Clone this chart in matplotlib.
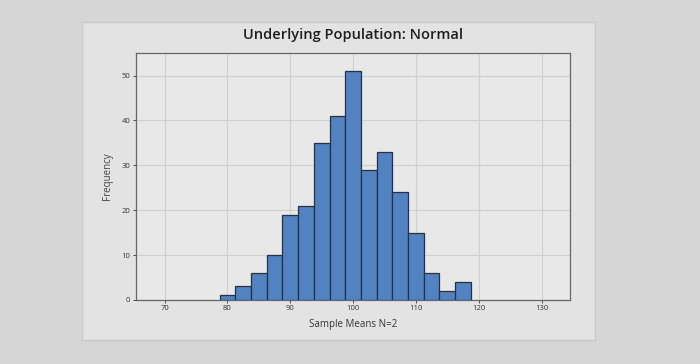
import numpy as np
import matplotlib.pyplot as plt
from matplotlib.patches import Rectangle

# histogram: bin width 2.5, centres 80 .. 117.5
bin_centers = [80, 82.5, 85, 87.5, 90, 92.5, 95, 97.5, 100,
               102.5, 105, 107.5, 110, 112.5, 115, 117.5]
counts = [1, 3, 6, 10, 19, 21, 35, 41, 51, 29, 33, 24, 15, 6, 2, 4]
x_ticks = [70, 80, 90, 100, 110, 120, 130]
y_ticks = [0, 10, 20, 30, 40, 50]

plt.rcParams['font.family'] = ['Open Sans', 'DejaVu Sans']

fig = plt.figure(figsize=(7, 3.64), dpi=100)
fig.patch.set_facecolor('#d6d6d6')

# the lighter chart panel
panel = Rectangle((0.117, 0.066), 0.733, 0.874, transform=fig.transFigure,
                  facecolor='#e3e3e3', edgecolor='#c8c8c8', lw=1, zorder=-1)
fig.add_artist(panel)

ax = fig.add_axes([0.194, 0.176, 0.62, 0.678])
ax.set_zorder(2)
ax.set_facecolor('#e8e8e8')

ax.bar(bin_centers, counts, width=2.5, color='#5282bf', edgecolor='#1f3250',
       linewidth=0.9, zorder=3)

ax.set_xlim(65.4, 134.5)
ax.set_ylim(0, 55)
ax.set_xticks(x_ticks)
ax.set_yticks(y_ticks)
ax.grid(True, color='#cfcfcf', linewidth=0.8, zorder=0)
ax.set_axisbelow(True)
ax.tick_params(labelsize=5.5, length=2, width=0.6, colors='#333333', pad=2)

for s in ax.spines.values():
    s.set_color('#666666')
    s.set_linewidth(0.9)

ax.set_title('Underlying Population: Normal', fontsize=10.5, color='#1e1e1e',
             fontweight='semibold', pad=10)
ax.set_xlabel('Sample Means N=2', fontsize=7, color='#333333', labelpad=5)
ax.set_ylabel('Frequency', fontsize=7, color='#444444', labelpad=6)

fig.savefig('out.png', dpi=100, facecolor=fig.get_facecolor())
